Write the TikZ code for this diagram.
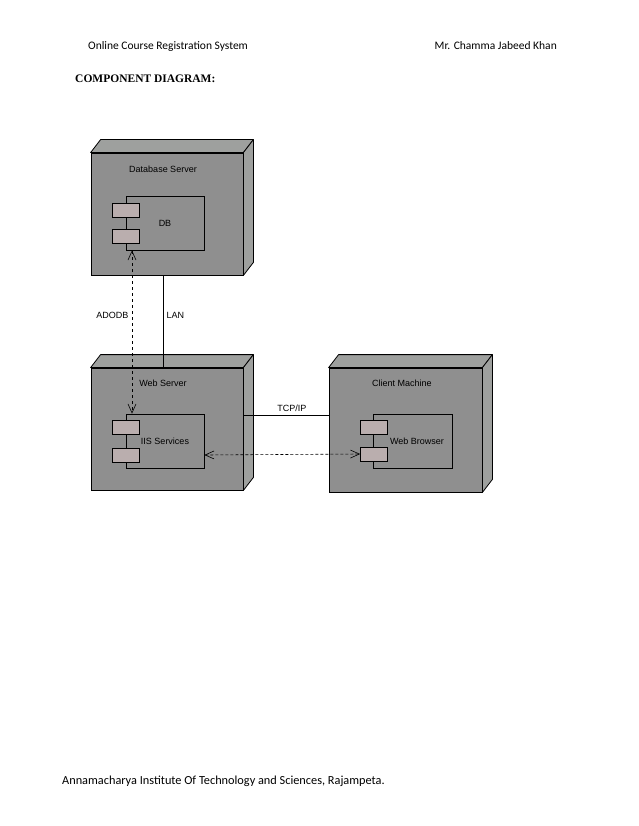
\documentclass[tikz,border=0pt]{standalone}
\usepackage{fontspec}
\setmainfont{Liberation Serif}
\newfontfamily\hdrfont{Carlito}
\newfontfamily\umlfont{Liberation Sans}
\usetikzlibrary{arrows.meta,calc}

\definecolor{nodegray}{RGB}{143,143,143}
\definecolor{facegray}{RGB}{158,160,158}
\definecolor{portgray}{RGB}{186,174,174}

\tikzset{
  face/.style={draw=black,fill=facegray,line width=0.8pt,line join=round},
  barb/.style={{Straight Barb[length=9pt,width=8pt]}-{Straight Barb[length=9pt,width=8pt]}},
  umltext/.style={font=\umlfont\fontsize{9}{10}\selectfont},
  pagetext/.style={inner sep=0pt,font=\hdrfont\fontsize{11.5}{13}\selectfont}
}

% top and side face of a node box
\newcommand{\boxdepth}[1]{%
  \draw[face] (#1.north west) -- ++(10,-13) -- ($(#1.north east)+(10,-13)$) -- (#1.north east) -- cycle;
  \draw[face] (#1.north east) -- ++(10,-13) -- ($(#1.south east)+(10,-13)$) -- (#1.south east) -- cycle;}

\begin{document}
\begin{tikzpicture}[x=1pt,y=-1pt]
\useasboundingbox (0,0) rectangle (638,826);

% page text
\node[pagetext,anchor=west] (hdrl) at (88,46) {Online Course Registration System};
\node[pagetext,anchor=east] (hdrr) at (557,46) {Mr. Chamma Jabeed Khan};
\node[anchor=west,inner sep=0pt,font=\bfseries\fontsize{11.5}{13}\selectfont] (title) at (75,79) {COMPONENT DIAGRAM:};
\node[pagetext,anchor=west,font=\hdrfont\fontsize{12.3}{14}\selectfont] (foot) at (62,781) {Annamacharya Institute Of Technology and Sciences, Rajampeta.};

% nodes
\begin{scope}[every node/.style={draw=black,fill=nodegray,line width=0.8pt,minimum width=152pt,minimum height=122pt,inner sep=0pt}]
  \node (dbs) at (167,214) {};
  \node (ws) at (167,429) {};
  \node[minimum width=153pt,minimum height=124pt] (cm) at (405.5,430) {};
\end{scope}
\boxdepth{dbs}
\boxdepth{ws}
\boxdepth{cm}

\begin{scope}[umltext]
  \node (dbslbl) at (163,169) {Database Server};
  \node (wslbl) at (163,383) {Web Server};
  \node (cmlbl) at (402,383) {Client Machine};
\end{scope}

% components
\begin{scope}[every node/.style={draw=black,fill=nodegray,line width=0.7pt,minimum width=78pt,minimum height=54pt,inner sep=0pt,umltext}]
  \node (db) at (165,223) {DB};
  \node (iis) at (165,441) {IIS Services};
  \node[minimum width=79pt] (wb) at (412.5,441) {\hspace{9pt}Web Browser};
\end{scope}
\begin{scope}[every node/.style={draw=black,fill=portgray,line width=0.7pt,minimum width=27pt,minimum height=14pt,inner sep=0pt}]
  \node (dbp1) at (125.5,210) {};
  \node (dbp2) at (125.5,236.5) {};
  \node (iisp1) at (125.5,427.5) {};
  \node (iisp2) at (125.5,455) {};
  \node (wbp1) at (374,427) {};
  \node (wbp2) at (374,454) {};
\end{scope}

% connectors
\begin{scope}[line width=0.6pt,umltext]
  \draw ([xshift=-4pt]dbs.south) -- node[right,pos=0.43] {LAN} ([xshift=-4pt]ws.north);
  \draw[dashed,barb] ([xshift=-33pt]db.south) -- node[left,pos=0.4] {ADODB} ([xshift=-33pt]iis.north);
  \draw ([yshift=14pt]ws.east) -- node[above,pos=0.57] {TCP/IP} ([yshift=14pt]ws.east -| cm.west);
  \draw[dash pattern=on 3pt off 2pt,barb] ([yshift=-14pt]iis.east) -- (wbp2.west);
\end{scope}
\end{tikzpicture}
\end{document}
